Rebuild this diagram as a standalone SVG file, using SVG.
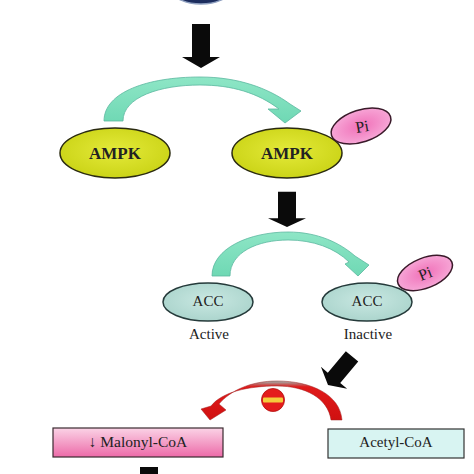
<svg xmlns="http://www.w3.org/2000/svg" width="474" height="474" viewBox="0 0 474 474">
<style>
.blk{fill:#0a0a0a}
.grn{fill:url(#gGreen);stroke:#5cb8a0;stroke-width:0.8}
.ampk{fill:url(#gAmpk);stroke:#2a2a10;stroke-width:1.5}
.acc{fill:url(#gAcc);stroke:#253a3a;stroke-width:1.5}
.pi{fill:url(#gPi);stroke:#3a1a2a;stroke-width:1.5}
.t{font-family:"Liberation Serif","Times New Roman",serif;fill:#222;text-anchor:middle}
</style>
<defs>
<radialGradient id="gAmpk" cx="0.5" cy="0.45" r="0.6"><stop offset="0" stop-color="#e4ea3a"/><stop offset="1" stop-color="#c9d214"/></radialGradient>
<radialGradient id="gAcc" cx="0.5" cy="0.45" r="0.6"><stop offset="0" stop-color="#c9e8e2"/><stop offset="1" stop-color="#a9d3cb"/></radialGradient>
<radialGradient id="gPi" cx="0.5" cy="0.5" r="0.6"><stop offset="0" stop-color="#f070b8"/><stop offset="1" stop-color="#f8b0dc"/></radialGradient>
<linearGradient id="gGreen" x1="0" y1="0" x2="0" y2="1"><stop offset="0" stop-color="#8ee6c6"/><stop offset="1" stop-color="#6fd8b4"/></linearGradient>
<linearGradient id="gMal" x1="0" y1="0" x2="0" y2="1"><stop offset="0" stop-color="#fbd3e6"/><stop offset="1" stop-color="#ec6aa8"/></linearGradient>
<linearGradient id="gRed" x1="0" y1="0" x2="0" y2="1"><stop offset="0" stop-color="#9ab8b4"/><stop offset="0.15" stop-color="#e01a1a"/><stop offset="1" stop-color="#d01010"/></linearGradient>
<path id="bigArrow" d="M-9,-44 L9,-44 L9,-11 L19,-11 L0,0 L-19,-11 L-9,-11 Z"/>
</defs>

<g id="top-node">
<ellipse cx="201" cy="-9" rx="28" ry="13" fill="#1c2d5e" stroke="#8fa0c0" stroke-width="1.5"/>
</g>

<g id="connectors">
<use href="#bigArrow" class="blk" transform="translate(201,68)"/>
<use href="#bigArrow" class="blk" transform="translate(287,227) scale(1,0.8)"/>
<use href="#bigArrow" class="blk" transform="translate(328,385) rotate(40) scale(0.9,0.85)"/>
<path class="grn" d="M104,121 C104,92 148,77 200,77 C238,77 268,88 290,104 L301,111 L285,123 L268,109 L279,109 C258,93 232,85 200,85 C160,85 123,97 123,121 Z"/>
<path class="grn" d="M212,276 C212,248 250,232 288,232 C318,232 340,243 355,256 L369,265 L358,276 L345,264 L349,262 C335,248 313,240 288,240 C258,240 230,252 230,276 Z"/>
<path fill="url(#gRed)" stroke="#a02020" stroke-width="0.5" d="M342,420 C340,395 312,381 277,381 C250,381 230,391 219,404 L226,410 L210,420 L201,409 L211,406 C222,392 248,386 277,386 C305,386 328,398 331,420 Z"/>
<circle cx="273" cy="400" r="11.5" fill="#e41c1c" stroke="#b01010" stroke-width="0.8"/>
<rect x="263" y="397.5" width="20" height="5" rx="1" fill="#f4cc3c"/>
<rect x="140" y="467" width="18" height="10" class="blk"/>
</g>

<g id="ampk-left">
<ellipse class="ampk" cx="115" cy="153" rx="55" ry="25"/>
<text class="t" x="115" y="159" font-size="17" font-weight="bold">AMPK</text>
</g>
<g id="ampk-right">
<ellipse class="ampk" cx="287" cy="153" rx="55" ry="25"/>
<text class="t" x="287" y="159" font-size="17" font-weight="bold">AMPK</text>
</g>
<g id="pi-1">
<ellipse class="pi" cx="361" cy="126" rx="31" ry="16" transform="rotate(-18 361 126)"/>
<text class="t" x="362" y="132" font-size="16" fill="#3a1a20" transform="rotate(-10 362 126)">Pi</text>
</g>

<g id="acc-active">
<ellipse class="acc" cx="208" cy="302" rx="45" ry="19"/>
<text class="t" x="208" y="306" font-size="15">ACC</text>
<text class="t" x="209" y="339" font-size="15">Active</text>
</g>
<g id="acc-inactive">
<ellipse class="acc" cx="367" cy="302" rx="45" ry="19"/>
<text class="t" x="367" y="306" font-size="15">ACC</text>
<text class="t" x="368" y="339" font-size="15">Inactive</text>
</g>
<g id="pi-2">
<ellipse class="pi" cx="425" cy="273" rx="29" ry="15" transform="rotate(-22 425 273)"/>
<text class="t" x="425" y="279" font-size="16" transform="rotate(-22 425 273)">Pi</text>
</g>

<g id="malonyl">
<rect x="53" y="428" width="170" height="29" fill="url(#gMal)" stroke="#3a2a30" stroke-width="1.2"/>
<text class="t" x="138" y="447" font-size="15.5">↓ Malonyl-CoA</text>
</g>
<g id="acetyl">
<rect x="328" y="429" width="136" height="29" fill="#d8f4f2" stroke="#333" stroke-width="1.2"/>
<text class="t" x="396" y="447" font-size="15">Acetyl-CoA</text>
</g>
</svg>
